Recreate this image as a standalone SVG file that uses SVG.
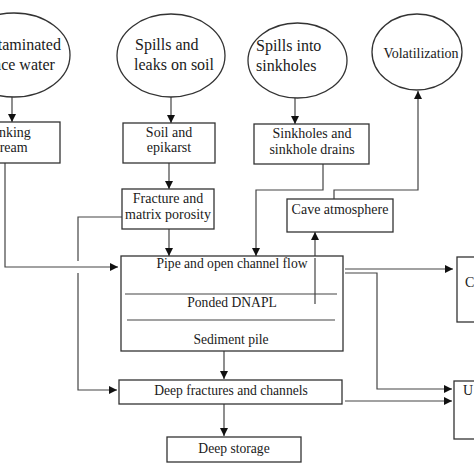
<svg xmlns="http://www.w3.org/2000/svg" width="474" height="474" viewBox="0 0 474 474">
<defs>
<marker id="ah" viewBox="0 0 10 10" refX="10" refY="5" markerWidth="9" markerHeight="8" markerUnits="userSpaceOnUse" orient="auto">
<path d="M0,0 L10,5 L0,10 Z" fill="#111"/>
</marker>
</defs>
<style>
.n{fill:#fff;stroke:#333;stroke-width:1.3}
.c{fill:none;stroke:#444;stroke-width:1.2}
.a{marker-end:url(#ah)}
text{font-family:"Liberation Serif","Times New Roman",serif;fill:#1a1a1a}
.t16{font-size:16px}
.t14{font-size:14px}
.t13{font-size:13.6px}
.m{text-anchor:middle}
</style>
<rect width="474" height="474" fill="#fff"/>
<g id="connectors">
<line class="c a" x1="12" y1="97" x2="12" y2="122"/>
<line class="c a" x1="171" y1="97" x2="171" y2="123"/>
<line class="c a" x1="295" y1="98" x2="295" y2="124"/>
<line class="c a" x1="169" y1="163" x2="169" y2="189"/>
<polyline class="c a" points="5,163 5,267 118,267"/>
<polyline class="c" points="122,217 78,217 78,261"/>
<polyline class="c a" points="78,273 78,390 117,390"/>
<line class="c a" x1="169" y1="229" x2="169" y2="256"/>
<polyline class="c a" points="323,164 323,190 256,190 256,256"/>
<polyline class="c a" points="334,199 334,190 418,190 418,91"/>
<line class="c a" x1="315" y1="306" x2="315" y2="232"/>
<circle cx="315" cy="306" r="3" fill="#111"/>
<line class="c a" x1="345" y1="269" x2="453" y2="269"/>
<polyline class="c a" points="345,273 377,273 377,389 452,389"/>
<line class="c a" x1="345" y1="401" x2="452" y2="401"/>
<line class="c a" x1="224" y1="351" x2="224" y2="379"/>
<line class="c a" x1="224" y1="404" x2="224" y2="436"/>
</g>
<g id="contaminated">
<ellipse class="n" cx="14" cy="55" rx="56" ry="42"/>
<text class="t16 m" x="16" y="50">Contaminated</text>
<text class="t16 m" x="12" y="70">surface water</text>
</g>
<g id="spills-soil">
<ellipse class="n" cx="171" cy="55.5" rx="54" ry="41.5"/>
<text class="t16" x="135" y="50">Spills and</text>
<text class="t16" x="134" y="70">leaks on soil</text>
</g>
<g id="spills-sinkholes">
<ellipse class="n" cx="297.5" cy="60.5" rx="49.5" ry="37.5"/>
<text class="t16" x="256" y="51">Spills into</text>
<text class="t16" x="256" y="71">sinkholes</text>
</g>
<g id="volatilization">
<ellipse class="n" cx="417" cy="52" rx="45" ry="38"/>
<text class="t14 m" x="421" y="58">Volatilization</text>
</g>
<g id="sinking-stream">
<rect class="n" x="-40" y="122" width="100" height="41"/>
<text class="t14 m" x="9" y="137">Sinking</text>
<text class="t14 m" x="9" y="152">stream</text>
</g>
<g id="soil-epikarst">
<rect class="n" x="123" y="123" width="92" height="40"/>
<text class="t14 m" x="169" y="137">Soil and</text>
<text class="t14 m" x="169" y="152">epikarst</text>
</g>
<g id="fracture-matrix">
<rect class="n" x="122" y="189" width="92" height="40"/>
<text class="t14 m" x="168" y="203">Fracture and</text>
<text class="t14 m" x="168" y="219">matrix porosity</text>
</g>
<g id="sinkholes-drains">
<rect class="n" x="254" y="124" width="115" height="40"/>
<text class="t14 m" x="312" y="138">Sinkholes and</text>
<text class="t14 m" x="312" y="154">sinkhole drains</text>
</g>
<g id="cave-atmosphere">
<rect class="n" x="287" y="199" width="106" height="33"/>
<text class="t14 m" x="340" y="214">Cave atmosphere</text>
</g>
<g id="pipe-channel">
<rect class="n" x="121" y="256" width="222" height="95"/>
<line class="c" x1="125" y1="294" x2="337" y2="294" stroke="#777"/>
<line class="c" x1="127" y1="320" x2="335" y2="320" stroke="#777"/>
<text class="t13 m" x="232" y="268">Pipe and open channel flow</text>
<text class="t13 m" x="232" y="307">Ponded DNAPL</text>
<text class="t13 m" x="231" y="344">Sediment pile</text>
</g>
<line class="c" x1="315" y1="258" x2="315" y2="304"/>
<g id="deep-fractures">
<rect class="n" x="119" y="380" width="223" height="24"/>
<text class="t13 m" x="231" y="395">Deep fractures and channels</text>
</g>
<g id="deep-storage">
<rect class="n" x="167" y="437" width="134" height="25"/>
<text class="t13 m" x="234" y="453">Deep storage</text>
</g>
<g id="c-box">
<rect class="n" x="457" y="257" width="40" height="65"/>
<text class="t14" x="465" y="287">C</text>
</g>
<g id="u-box">
<rect class="n" x="454" y="381" width="40" height="58"/>
<text class="t14" x="463" y="395">U</text>
</g>
</svg>
